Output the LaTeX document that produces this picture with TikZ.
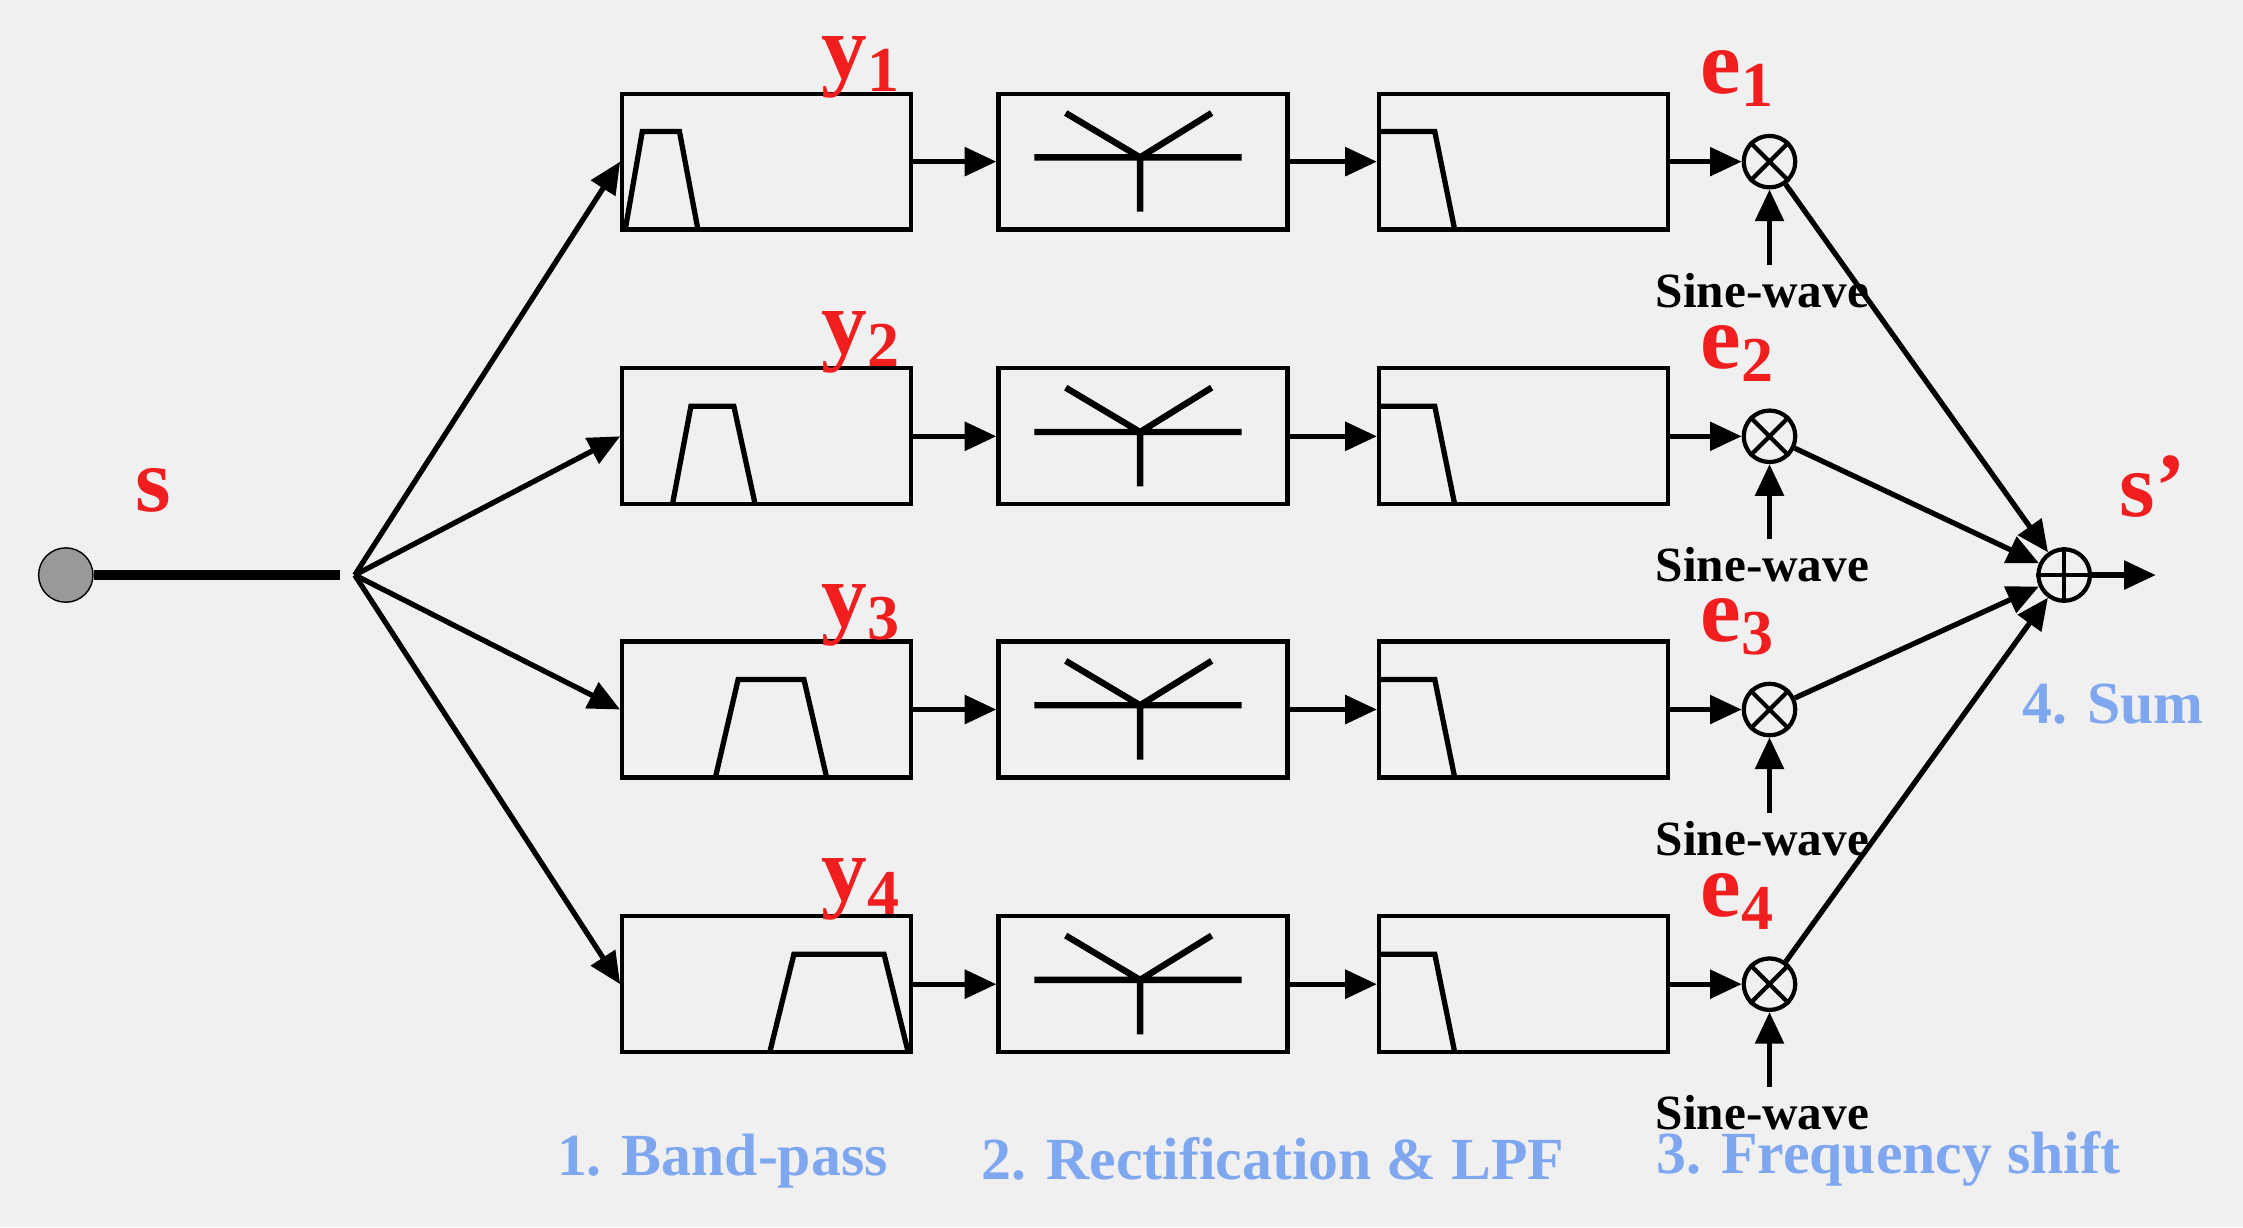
\documentclass[tikz,border=0pt]{standalone}
\usepackage{fontspec}
\setmainfont{Liberation Serif}
\usetikzlibrary{arrows.meta,positioning}
\definecolor{bg}{HTML}{F0F0F0}
\definecolor{lblue}{HTML}{7FA7F0}
\definecolor{lred}{HTML}{F01E1E}
\tikzset{
  box/.style={rectangle, draw, line width=1.2pt, minimum width=202*0.0143cm, minimum height=95*0.0143cm, inner sep=0},
  mult/.style={circle, draw, line width=1.2pt, minimum size=36*0.0143cm, inner sep=0},
  arr/.style={-{Triangle[length=9pt,width=8pt]}, line width=1.5pt},
  red label/.style={text=lred, font=\bfseries\fontsize{26}{26}\selectfont},
  stage label/.style={text=lblue, font=\bfseries\fontsize{17}{17}\selectfont},
  sine/.style={font=\bfseries\fontsize{14}{14}\selectfont}
}
\begin{document}
\begin{tikzpicture}[x=0.0143cm, y=-0.0143cm]
  \fill[bg] (0,0) rectangle (1568,858);
  \useasboundingbox (0,0) rectangle (1568,858);
  % input
  \node[circle, draw, fill=gray!80, minimum size=38*0.0143cm, inner sep=0] (src) at (46,402) {};
  \coordinate (split) at (248,402);
  \draw[line width=3pt] (src) -- (238,402);
  \node[red label] (s) at (107,343) {s};
  % sum
  \node[mult] (sum) at (1443,402) {};
  \draw[line width=1.2pt] (sum.north) -- (sum.south) (sum.west) -- (sum.east);
  \coordinate (out) at (1507,402);
  \draw[arr] (sum) -- (out);
  \node[red label] (sp) at (1505,340) {s'};
  \node[stage label] (st4) at (1477,492) {4. Sum};
  % channels
  \foreach \i/\y/\a/\b/\c/\d in {1/113/437/449/475/488, 2/305/470/483/513/528, 3/496/500/516/562/578, 4/688/538/555/618/635} {
    \node[box] (bp\i) at (536,\y) {};
    \node[box] (rl\i) at (799,\y) {};
    \node[box] (lp\i) at (1065,\y) {};
    \node[mult] (m\i) at (1237,\y) {};
    \draw[line width=1.2pt] (m\i.north west) -- (m\i.south east) (m\i.north east) -- (m\i.south west);
    \draw[arr] (split) -- (bp\i.west);
    \draw[arr] (bp\i) -- (rl\i);
    \draw[arr] (rl\i) -- (lp\i);
    \draw[arr] (lp\i) -- (m\i);
    \node[sine] (sw\i) at (1232,\y+90) {Sine-wave};
    \draw[arr] (1237,\y+72) -- (m\i.south);
    \draw[arr] (m\i) -- (sum);
    \node[red label] (y\i) at (602,\y-66) {y\textsubscript{\i}};
    \node[red label] (e\i) at (1215,\y-58) {e\textsubscript{\i}};
    % icons
    \draw[line width=1.5pt] (\a,\y+48) -- (\b,\y-21) -- (\c,\y-21) -- (\d,\y+48);
    \draw[line width=1.8pt] (723,\y-3) -- (868,\y-3) (797,\y-3) -- (797,\y+35)
      (745,\y-34) -- (797,\y-3) -- (847,\y-34);
    \draw[line width=1.5pt] (964,\y-21) -- (1003,\y-21) -- (1017,\y+48);
  }
  % stage labels
  \node[stage label] (st1) at (505,812) {1. Band-pass};
  \node[stage label] (st2) at (890,810) {2. Rectification \& LPF};
  \node[stage label] (st3) at (1320,810) {3. Frequency shift};
\end{tikzpicture}
\end{document}
